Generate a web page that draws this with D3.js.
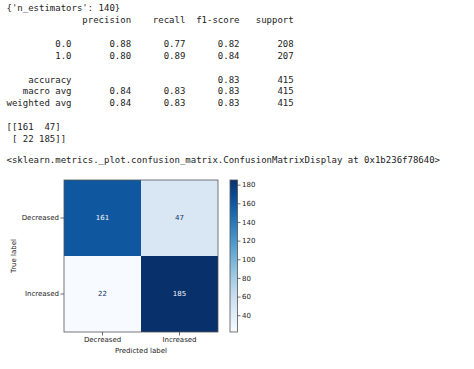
<!DOCTYPE html>
<html>
<head>
<meta charset="utf-8">
<script src="https://cdn.jsdelivr.net/npm/d3@7"></script>
<style>
  body { margin: 0; background: #fff; }
  .mono { font-family: "DejaVu Sans Mono", "Liberation Mono", monospace; font-size: 9px; fill: #222; white-space: pre; }
  .ax { font-family: "DejaVu Sans", sans-serif; font-size: 7px; fill: #222; }
</style>
</head>
<body>
<div id="chart"></div>
<script>
// classification report values
var classNames = ["0.0", "1.0"];
var precision = [0.88, 0.80];
var recall = [0.77, 0.89];
var f1 = [0.82, 0.84];
var support = [208, 207];
var accuracy = 0.83;
var macroAvg = [0.84, 0.83, 0.83];
var weightedAvg = [0.84, 0.83, 0.83];
var total = 415;
var nEstimators = 140;

// confusion matrix
var labels = ["Decreased", "Increased"];
var matrix = [[161, 47], [22, 185]];
var cbarTicks = [40, 60, 80, 100, 120, 140, 160, 180];

var width = 474, height = 369;

var svg = d3.select("#chart").append("svg")
  .attr("width", width)
  .attr("height", height);

/* printed text output */
function num(v) { return v.toFixed(2).padStart(9); }
function row(name, vals, sup) {
  return name.padStart(12) + " " + vals.map(v => " " + num(v)).join("") + " " + String(sup).padStart(9);
}
var lines = [];
lines.push({ t: "{'n_estimators': " + nEstimators + "}", y: 7.5 });
lines.push({ t: " ".repeat(13) + ["precision", "recall", "f1-score", "support"].map(s => " " + s.padStart(9)).join(""), y: 19.5 });
classNames.forEach(function (c, i) {
  lines.push({ t: row(c, [precision[i], recall[i], f1[i]], support[i]), y: 43.5 + i * 12 });
});
lines.push({ t: "accuracy".padStart(12) + " " + " ".repeat(20) + " " + num(accuracy) + " " + String(total).padStart(9), y: 79.5 });
lines.push({ t: row("macro avg", macroAvg, total), y: 91 });
lines.push({ t: row("weighted avg", weightedAvg, total), y: 102.8 });
var cell = d => String(d).padStart(3);
lines.push({ t: "[[" + matrix[0].map(cell).join(" ") + "]", y: 126.8 });
lines.push({ t: " [" + matrix[1].map(cell).join(" ") + "]]", y: 138.5 });
lines.push({ t: "<sklearn.metrics._plot.confusion_matrix.ConfusionMatrixDisplay at 0x1b236f78640>", y: 160 });

svg.append("g").selectAll("text")
  .data(lines)
  .join("text")
  .attr("class", "mono")
  .attr("x", 6.5)
  .attr("y", d => d.y)
  .attr("dy", "0.35em")
  .text(d => d.t);

/* confusion matrix heatmap */
var m = { left: 64, right: 218, top: 180, bottom: 332 };
var xScale = d3.scaleBand().domain(labels).range([m.left, m.right]);
var yScale = d3.scaleBand().domain(labels).range([m.top, m.bottom]);
var vmin = d3.min(matrix.flat()), vmax = d3.max(matrix.flat());
var color = d3.scaleSequential(d3.interpolateBlues).domain([vmin, vmax]);
var thresh = (vmin + vmax) / 2;

var cells = [];
matrix.forEach((r, i) => r.forEach((v, j) => cells.push({ t: labels[i], p: labels[j], v: v })));

var cg = svg.append("g");
cg.selectAll("rect")
  .data(cells)
  .join("rect")
  .attr("x", d => xScale(d.p))
  .attr("y", d => yScale(d.t))
  .attr("width", xScale.bandwidth())
  .attr("height", yScale.bandwidth())
  .attr("fill", d => color(d.v));

cg.selectAll("text")
  .data(cells)
  .join("text")
  .attr("class", "ax")
  .attr("x", d => xScale(d.p) + xScale.bandwidth() / 2)
  .attr("y", d => yScale(d.t) + yScale.bandwidth() / 2)
  .attr("dy", "0.35em")
  .attr("text-anchor", "middle")
  .style("fill", d => d.v > thresh ? color(vmin) : color(vmax))
  .text(d => d.v);

svg.append("rect")
  .attr("x", m.left).attr("y", m.top)
  .attr("width", m.right - m.left).attr("height", m.bottom - m.top)
  .attr("fill", "none").attr("stroke", "#555").attr("stroke-width", 0.8);

//axes
var xAxis = d3.axisBottom(xScale).tickSize(3.5).tickSizeOuter(0);
var yAxis = d3.axisLeft(yScale).tickSize(3.5).tickSizeOuter(0);
var gx = svg.append("g").attr("transform", `translate(0,${m.bottom})`).call(xAxis);
var gy = svg.append("g").attr("transform", `translate(${m.left},0)`).call(yAxis);
[gx, gy].forEach(g => {
  g.select(".domain").remove();
  g.selectAll("line").attr("stroke", "#333").attr("stroke-width", 0.7);
  g.selectAll("text").attr("class", "ax").attr("font-size", null).attr("font-family", null);
});
gx.selectAll("text").attr("y", 5.5);
gy.selectAll("text").attr("x", -5);

svg.append("text").attr("class", "ax")
  .attr("x", (m.left + m.right) / 2).attr("y", 351).attr("dy", "0.35em")
  .attr("text-anchor", "middle").text("Predicted label");

svg.append("text").attr("class", "ax")
  .attr("transform", `translate(14,${(m.top + m.bottom) / 2}) rotate(-90)`)
  .attr("dy", "0.35em")
  .attr("text-anchor", "middle").text("True label");

/* colorbar */
var cb = { x: 230, w: 7.5 };
var cbScale = d3.scaleLinear().domain([vmin, vmax]).range([m.bottom, m.top]);
var grad = svg.append("defs").append("linearGradient")
  .attr("id", "cbgrad").attr("x1", 0).attr("y1", 1).attr("x2", 0).attr("y2", 0);
grad.selectAll("stop")
  .data(d3.range(0, 1.0001, 0.05))
  .join("stop")
  .attr("offset", d => d)
  .attr("stop-color", d => d3.interpolateBlues(d));
svg.append("rect")
  .attr("x", cb.x).attr("y", m.top)
  .attr("width", cb.w).attr("height", m.bottom - m.top)
  .attr("fill", "url(#cbgrad)")
  .attr("stroke", "#555").attr("stroke-width", 0.8);

var gc = svg.append("g").attr("transform", `translate(${cb.x + cb.w},0)`)
  .call(d3.axisRight(cbScale).tickValues(cbarTicks).tickSize(3).tickSizeOuter(0));
gc.select(".domain").remove();
gc.selectAll("line").attr("stroke", "#333").attr("stroke-width", 0.7);
gc.selectAll("text").attr("class", "ax").attr("font-size", null).attr("font-family", null).attr("x", 4.5);
</script>
</body>
</html>
